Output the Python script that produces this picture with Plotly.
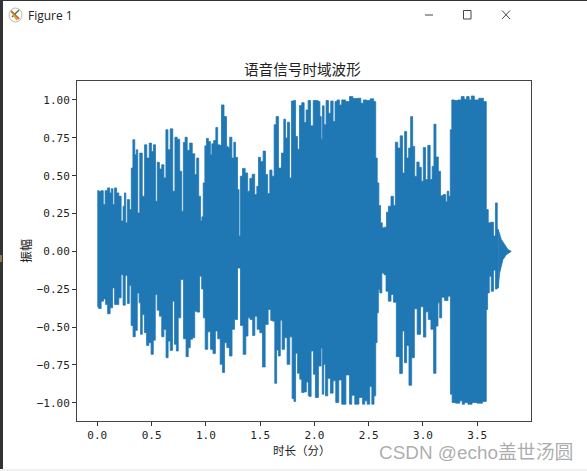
import plotly.graph_objects as go

# envelope of the waveform (time in minutes, amplitude)
upper_t = [0.000, 0.025, 0.046, 0.064, 0.080, 0.107, 0.123, 0.138, 0.150, 0.169, 0.187, 0.209, 0.230, 0.245, 0.255,
           0.270, 0.285, 0.307, 0.319, 0.337, 0.353, 0.365, 0.380, 0.402, 0.426, 0.445, 0.466, 0.491, 0.506, 0.528,
           0.543, 0.561, 0.583, 0.604, 0.623, 0.641, 0.660, 0.684, 0.706, 0.724, 0.748, 0.770, 0.785, 0.801, 0.816,
           0.840, 0.862, 0.887, 0.908, 0.923, 0.945, 0.957, 0.969, 0.982, 1.000, 1.012, 1.034, 1.049, 1.061, 1.083,
           1.101, 1.117, 1.135, 1.153, 1.181, 1.199, 1.212, 1.227, 1.252, 1.264, 1.282, 1.301, 1.310, 1.325, 1.350,
           1.374, 1.396, 1.414, 1.439, 1.460, 1.479, 1.491, 1.515, 1.540, 1.558, 1.580, 1.598, 1.620, 1.638, 1.656,
           1.681, 1.712, 1.724, 1.742, 1.761, 1.779, 1.798, 1.819, 1.834, 1.853, 1.871, 1.896, 1.914, 1.933, 1.951,
           1.978, 2.000, 2.025, 2.043, 2.058, 2.067, 2.080, 2.098, 2.117, 2.141, 2.160, 2.184, 2.196, 2.221, 2.239,
           2.264, 2.310, 2.337, 2.371, 2.417, 2.439, 2.463, 2.494, 2.534, 2.558, 2.571, 2.586, 2.601, 2.617, 2.632,
           2.656, 2.672, 2.693, 2.718, 2.736, 2.755, 2.779, 2.801, 2.822, 2.840, 2.859, 2.877, 2.896, 2.914, 2.933,
           2.954, 2.975, 2.994, 3.012, 3.034, 3.055, 3.077, 3.092, 3.110, 3.129, 3.153, 3.169, 3.202, 3.215, 3.230,
           3.245, 3.258, 3.273, 3.307, 3.337, 3.368, 3.390, 3.414, 3.436, 3.454, 3.491, 3.537, 3.577, 3.589, 3.613,
           3.638, 3.660, 3.675, 3.693, 3.721, 3.752, 3.782, 3.813]
upper_v = [0.401, 0.397, 0.401, 0.309, 0.401, 0.419, 0.386, 0.414, 0.309, 0.419, 0.386, 0.364, 0.200, 0.298, 0.386,
           0.189, 0.342, 0.276, 0.550, 0.737, 0.638, 0.671, 0.254, 0.649, 0.364, 0.704, 0.616, 0.715, 0.660, 0.704,
           0.331, 0.588, 0.544, 0.572, 0.485, 0.803, 0.671, 0.809, 0.397, 0.754, 0.741, 0.529, 0.265, 0.719, 0.754,
           0.667, 0.715, 0.645, 0.507, 0.616, 0.364, 0.200, 0.228, 0.452, 0.697, 0.746, 0.726, 0.638, 0.711, 0.732,
           0.818, 0.704, 0.700, 0.967, 0.890, 0.693, 0.682, 0.754, 0.616, 0.721, 0.621, 0.408, 0.101, 0.496, 0.548,
           0.518, 0.397, 0.482, 0.509, 0.375, 0.430, 0.621, 0.594, 0.662, 0.507, 0.382, 0.537, 0.496, 0.836, 0.890,
           0.550, 0.649, 0.873, 0.748, 0.853, 0.485, 0.993, 0.996, 0.759, 0.675, 0.963, 0.982, 0.851, 0.934, 0.996,
           0.829, 0.996, 0.996, 0.989, 0.890, 0.741, 0.961, 0.836, 0.996, 0.912, 0.993, 0.857, 0.989, 1.000, 0.967,
           1.000, 0.989, 1.022, 1.009, 1.011, 0.978, 1.000, 0.996, 1.007, 0.989, 0.616, 0.452, 0.303, 0.189, 0.156,
           0.160, 0.259, 0.298, 0.364, 0.303, 0.721, 0.682, 0.763, 0.518, 0.792, 0.616, 0.682, 0.890, 0.693, 0.496,
           0.590, 0.555, 0.463, 0.686, 0.474, 0.700, 0.474, 0.561, 0.840, 0.623, 0.529, 0.368, 0.375, 0.327, 0.397,
           0.364, 0.803, 1.000, 0.996, 1.000, 1.022, 1.004, 1.022, 1.000, 1.026, 1.000, 1.011, 0.989, 0.276, 0.189,
           0.193, 0.101, 0.320, 0.145, 0.079, 0.046, 0.013, 0.000]

lower_t = [0.000, 0.025, 0.046, 0.067, 0.086, 0.104, 0.132, 0.150, 0.169, 0.187, 0.209, 0.230, 0.245, 0.270, 0.285,
           0.304, 0.319, 0.340, 0.359, 0.377, 0.393, 0.405, 0.423, 0.445, 0.463, 0.485, 0.506, 0.525, 0.543, 0.561,
           0.583, 0.604, 0.623, 0.644, 0.660, 0.684, 0.702, 0.721, 0.736, 0.755, 0.782, 0.807, 0.828, 0.847, 0.865,
           0.887, 0.908, 0.929, 0.954, 0.969, 0.985, 1.003, 1.031, 1.055, 1.077, 1.098, 1.120, 1.144, 1.163, 1.181,
           1.206, 1.230, 1.252, 1.276, 1.307, 1.331, 1.356, 1.380, 1.396, 1.420, 1.442, 1.460, 1.485, 1.509, 1.534,
           1.558, 1.589, 1.607, 1.626, 1.644, 1.660, 1.678, 1.693, 1.712, 1.736, 1.761, 1.785, 1.804, 1.819, 1.834,
           1.856, 1.874, 1.893, 1.914, 1.936, 1.951, 1.957, 1.982, 2.000, 2.018, 2.055, 2.067, 2.077, 2.095, 2.110,
           2.135, 2.160, 2.184, 2.209, 2.239, 2.264, 2.316, 2.331, 2.356, 2.387, 2.433, 2.454, 2.472, 2.500, 2.518,
           2.540, 2.558, 2.571, 2.583, 2.595, 2.610, 2.632, 2.650, 2.669, 2.693, 2.718, 2.739, 2.770, 2.801, 2.819,
           2.840, 2.859, 2.883, 2.908, 2.933, 2.960, 2.994, 3.015, 3.037, 3.061, 3.086, 3.110, 3.129, 3.147, 3.160,
           3.184, 3.215, 3.245, 3.261, 3.276, 3.322, 3.356, 3.368, 3.399, 3.429, 3.475, 3.521, 3.577, 3.589, 3.601,
           3.620, 3.638, 3.660, 3.675, 3.693, 3.706, 3.736, 3.767, 3.813]
lower_v = [-0.366, -0.377, -0.329, -0.314, -0.351, -0.412, -0.373, -0.241, -0.351, -0.351, -0.307, -0.154, -0.355,
           -0.160, -0.344, -0.226, -0.489, -0.564, -0.522, -0.274, -0.340, -0.548, -0.417, -0.537, -0.621, -0.603,
           -0.680, -0.586, -0.285, -0.388, -0.428, -0.564, -0.515, -0.702, -0.592, -0.654, -0.329, -0.614, -0.658,
           -0.439, -0.186, -0.577, -0.695, -0.636, -0.581, -0.570, -0.395, -0.401, -0.164, -0.248, -0.439, -0.647,
           -0.531, -0.647, -0.675, -0.526, -0.577, -0.746, -0.800, -0.603, -0.636, -0.691, -0.515, -0.450, -0.110,
           -0.489, -0.680, -0.559, -0.439, -0.450, -0.555, -0.428, -0.515, -0.537, -0.763, -0.482, -0.384, -0.456,
           -0.461, -0.871, -0.651, -0.691, -0.454, -0.647, -0.570, -0.746, -0.564, -0.971, -0.991, -0.673, -0.805,
           -0.844, -0.932, -0.928, -0.862, -0.954, -0.958, -0.658, -0.811, -0.965, -0.757, -0.638, -0.943, -0.746,
           -0.954, -0.838, -0.936, -0.855, -0.998, -0.849, -1.009, -0.816, -1.009, -0.950, -1.009, -0.965, -1.009,
           -0.987, -1.009, -0.893, -1.009, -0.954, -0.603, -0.406, -0.252, -0.274, -0.143, -0.154, -0.263, -0.329,
           -0.285, -0.336, -0.695, -0.807, -0.526, -0.735, -0.621, -0.884, -0.702, -0.379, -0.548, -0.366, -0.566,
           -0.399, -0.450, -0.515, -0.805, -0.493, -0.340, -0.439, -0.303, -0.325, -0.296, -0.943, -0.998, -1.002,
           -0.987, -1.009, -0.998, -1.009, -0.998, -1.002, -0.991, -0.384, -0.274, -0.164, -0.263, -0.125, -0.248,
           -0.241, -0.143, -0.055, -0.022, 0.000]

x_ticks = [0.0, 0.5, 1.0, 1.5, 2.0, 2.5, 3.0, 3.5]
x_labels = ["0.0", "0.5", "1.0", "1.5", "2.0", "2.5", "3.0", "3.5"]
y_ticks = [-1.0, -0.75, -0.5, -0.25, 0.0, 0.25, 0.5, 0.75, 1.0]
y_labels = ["\u22121.00", "\u22120.75", "\u22120.50", "\u22120.25", "0.00", "0.25", "0.50", "0.75", "1.00"]

W, H = 587, 471
L, R, T, B = 77, 531, 81, 421
CJK = "Noto Sans CJK SC"
BLUE = "#1f77b4"
TAIL_START = 3.693  # the fade-out at the end is smooth, not blocky


# window furniture is placed in screen pixels
def px(v):
    return (v - L) / (R - L)


def py(v):
    return (B - v) / (B - T)


def chrome_line(x0, y0, x1, y1, color="#444444", width=1):
    return dict(type="line", xref="paper", yref="paper", x0=px(x0), y0=py(y0), x1=px(x1), y1=py(y1),
                line=dict(color=color, width=width))


def chrome_rect(x0, y0, x1, y1, fill=None, color="#444444", width=1):
    return dict(type="rect", xref="paper", yref="paper", x0=px(x0), y0=py(y0), x1=px(x1), y1=py(y1),
                fillcolor=fill or "rgba(0,0,0,0)", line=dict(color=color, width=width))


def label(text, x, y, size, font=CJK, color="#222222", angle=0, anchor="center"):
    return dict(text=text, xref="paper", yref="paper", x=px(x), y=py(y), showarrow=False, textangle=angle,
                xanchor=anchor, yanchor="middle", font=dict(family=font, size=size, color=color))


def wave_trace(keep, shape):
    up = [(t, v) for t, v in zip(upper_t, upper_v) if keep(t)]
    low = [(t, v) for t, v in zip(lower_t, lower_v) if keep(t)]
    pts = up + low[::-1]
    return go.Scatter(
        x=[p[0] for p in pts],
        y=[p[1] for p in pts],
        mode="lines",
        fill="toself",
        fillcolor=BLUE,
        line=dict(color=BLUE, width=0.8, shape=shape),
        hoverinfo="skip",
        showlegend=False,
    )


fig = go.Figure()
fig.add_trace(wave_trace(lambda t: t <= TAIL_START, "hvh"))
fig.add_trace(wave_trace(lambda t: t >= TAIL_START, "linear"))

shapes = [
    chrome_rect(0, 0, 3, H, fill="#333333", color="#333333", width=0),
    chrome_rect(0, 0, W, 1, fill="#333333", color="#333333", width=0),
    chrome_rect(0, 469, W, H, fill="#f0f0f0", color="#f0f0f0", width=0),
    chrome_rect(0, 255, 2, 262, fill="#8a7a50", color="#8a7a50", width=0),
    chrome_line(425, 15, 433, 15),
    chrome_rect(463.5, 10.5, 471, 19),
    chrome_line(502, 10.5, 510, 19),
    chrome_line(510, 10.5, 502, 19),
    dict(type="circle", xref="paper", yref="paper", x0=px(9), y0=py(8), x1=px(22), y1=py(22),
         line=dict(color="#bbbbbb", width=1)),
    chrome_line(11, 11, 19, 19, color="#d9622b", width=2),
    chrome_line(19, 10, 12, 17, color="#3a7d44", width=1.5),
    chrome_line(13, 14, 17, 20, color="#e0a030", width=1.5),
]

annotations = [
    label("Figure 1", 26, 15, 12, font="Open Sans", anchor="left"),
    label("语音信号时域波形", 302.5, 68.5, 14.6),
    label("时长（分）", 302, 449.5, 11.5),
    label("振幅", 25, 251, 12, angle=-90),
    label("CSDN @echo盖世汤圆", 475.5, 452.5, 18.9, font="Liberation Sans, Noto Sans CJK SC", color="rgba(90,90,90,0.5)"),
]

fig.update_layout(
    width=W,
    height=H,
    margin=dict(l=L, r=W - R, t=T, b=H - B, pad=0),
    paper_bgcolor="white",
    plot_bgcolor="white",
    font=dict(family="DejaVu Sans Mono", size=11, color="#222222"),
    shapes=shapes,
    annotations=annotations,
    xaxis=dict(range=[-0.187, 3.995], tickmode="array", tickvals=x_ticks, ticktext=x_labels, showgrid=False,
               zeroline=False, ticks="outside", ticklen=4, tickcolor="#333333", showline=True, linecolor="#444444",
               linewidth=1, mirror=True),
    yaxis=dict(range=[-1.12, 1.125], tickmode="array", tickvals=y_ticks, ticktext=y_labels, showgrid=False,
               zeroline=False, ticks="outside", ticklen=4, tickcolor="#333333", showline=True, linecolor="#444444",
               linewidth=1, mirror=True),
)

fig.write_html("out.html", config=dict(displayModeBar=False),
               post_script="document.body.style.margin='0';document.body.style.overflow='hidden';")
